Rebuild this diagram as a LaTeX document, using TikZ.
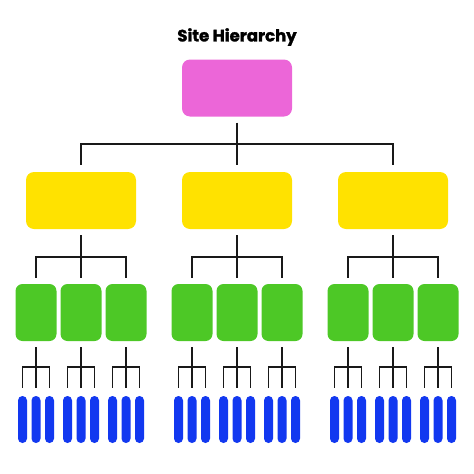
\documentclass[tikz,border=0pt]{standalone}
\usepackage{fontspec}
\newfontfamily\titlefont{Poppins}[BoldFeatures={FakeBold=1.6}]
\definecolor{pinkc}{RGB}{236,102,216}
\definecolor{yellowc}{RGB}{255,226,0}
\definecolor{greenc}{RGB}{77,200,38}
\definecolor{bluec}{RGB}{18,56,240}
\definecolor{linec}{RGB}{25,25,25}
\tikzset{
  conn/.style={draw=linec, line width=1.8pt},
  pinkbox/.style={fill=pinkc, rounded corners=8pt, minimum width=110pt, minimum height=57pt, inner sep=0pt},
  yellowbox/.style={fill=yellowc, rounded corners=8pt, minimum width=110pt, minimum height=57pt, inner sep=0pt},
  greenbox/.style={fill=greenc, rounded corners=7pt, minimum width=41pt, minimum height=57pt, inner sep=0pt},
  bluebar/.style={fill=bluec, rounded corners=4.4pt, minimum width=9pt, minimum height=47pt, inner sep=0pt},
  titletext/.style={font=\titlefont\bfseries\fontsize{16.5}{19}\selectfont, inner sep=0pt}
}
\begin{document}
\begin{tikzpicture}[x=1pt,y=-1pt]
\useasboundingbox (0,0) rectangle (474,474);
\node[titletext] (title) at (237,37) {Site Hierarchy};
\node[pinkbox] (P) at (237,88) {};
\foreach \i/\x in {1/81,2/237,3/393} {
  \node[yellowbox] (Y\i) at (\x,200.5) {};
  \foreach \j/\dx in {1/-45,2/0,3/45} {
    \node[greenbox] (G\i\j) at (\x+\dx,312.5) {};
    \foreach \k/\ddx in {1/-13.5,2/0,3/13.5} {
      \node[bluebar] (B\i\j\k) at (\x+\dx+\ddx,419.5) {};
    }
  }
}
% level 1
\coordinate (pj) at ([yshift=-27pt]P.south);
\draw[conn] ([yshift=-6pt]P.south) -- ([yshift=7pt]Y2.north);
\draw[conn] ([yshift=7pt]Y1.north) -- (Y1.north |- pj) -- (Y3.north |- pj) -- ([yshift=7pt]Y3.north);
% level 2
\foreach \i in {1,2,3} {
  \coordinate (yj\i) at ([yshift=-28pt]Y\i.south);
  \draw[conn] ([yshift=-6pt]Y\i.south) -- ([yshift=6pt]G\i2.north);
  \draw[conn] ([yshift=6pt]G\i1.north) -- (G\i1.north |- yj\i) -- (G\i3.north |- yj\i) -- ([yshift=6pt]G\i3.north);
  % level 3
  \foreach \j in {1,2,3} {
    \coordinate (gj\i\j) at ([yshift=-26pt]G\i\j.south);
    \draw[conn] ([yshift=-6pt]G\i\j.south) -- ([yshift=8pt]B\i\j2.north);
    \draw[conn] ([yshift=8pt]B\i\j1.north) -- (B\i\j1.north |- gj\i\j) -- (B\i\j3.north |- gj\i\j) -- ([yshift=8pt]B\i\j3.north);
  }
}
\end{tikzpicture}
\end{document}
